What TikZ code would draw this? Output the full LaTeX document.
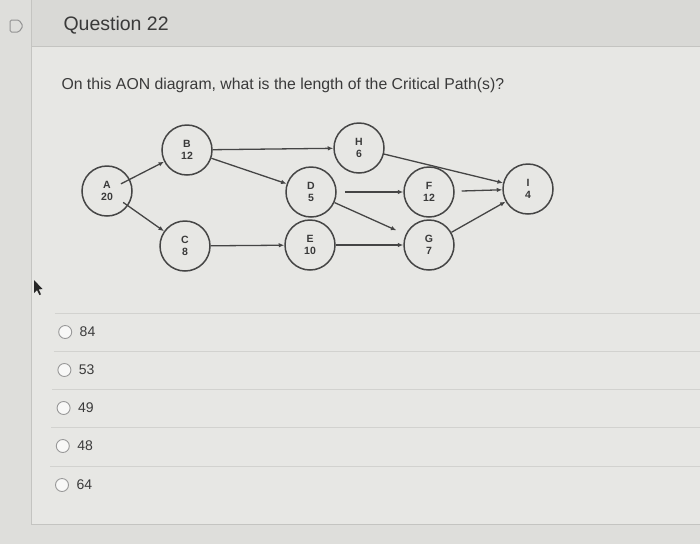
\documentclass[tikz,border=0pt]{standalone}
\usepackage{fontspec}
\setmainfont{Liberation Sans}
\usetikzlibrary{positioning, arrows.meta}
\definecolor{pagebg}{HTML}{DEDEDB}
\definecolor{cardbg}{HTML}{E7E7E4}
\definecolor{headbg}{HTML}{D9D9D6}
\definecolor{cardline}{HTML}{C4C4C1}
\definecolor{sepline}{HTML}{D2D2CF}
\definecolor{inkgray}{HTML}{454545}
\definecolor{textgray}{HTML}{3A3A3A}
\tikzset{
  act/.style={circle, draw=inkgray, line width=1.5pt, minimum size=50pt, inner sep=0pt,
    align=center, text=textgray, font=\bfseries\fontsize{10.5}{12.5}\selectfont},
  link/.style={draw=inkgray, line width=1.3pt, -{Latex[length=5.5pt,width=4.5pt]}},
  radio/.style={circle, draw=gray!80, fill=white!70!cardbg, line width=0.9pt, minimum size=13pt, inner sep=0pt},
  choice/.style={anchor=west, text=textgray, font=\fontsize{14}{16}\selectfont}
}
\begin{document}
\begin{tikzpicture}[x=1pt, y=-1pt]
  \useasboundingbox (0,0) rectangle (700,544);
  % page and card
  \fill[pagebg] (0,0) rectangle (700,544);
  \fill[cardbg] (31,46) rectangle (700,524);
  \fill[headbg] (31,0) rectangle (700,46);
  \draw[cardline, line width=0.8pt] (31,0) -- (31,524) -- (700,524);
  \draw[cardline, line width=0.8pt] (31,46) -- (700,46);
  \draw[gray!85, line width=1pt, rounded corners=1.5pt] (10,20) -- (19,20) -- (23,26) -- (19,32) -- (10,32) -- cycle;

  \node[anchor=west, text=textgray, font=\fontsize{19.5}{22}\selectfont] (title) at (60,25) {Question 22};
  \node[anchor=west, text=textgray, font=\fontsize{15.8}{18}\selectfont] (question) at (58,85)
    {On this AON diagram, what is the length of the Critical Path(s)?};

  % activities
  \node[act] (A) at (107,191) {A\\20};
  \node[act] (B) at (187,150) {B\\12};
  \node[act] (C) at (185,246) {C\\8};
  \node[act] (D) at (311,192) {D\\5};
  \node[act] (E) at (310,245) {E\\10};
  \node[act] (H) at (359,148) {H\\6};
  \node[act] (F) at (429,192) {F\\12};
  \node[act] (G) at (429,245) {G\\7};
  \node[act] (I) at (528,189) {I\\4};

  % precedence
  \draw[link, shorten <=-10pt] (A) -- (B);
  \draw[link, shorten <=-6pt] (A) -- (C);
  \draw[link] (B) -- (H);
  \draw[link] (B) -- (D);
  \draw[link] (C) -- (E);
  \draw[link, shorten <=8pt] (D) -- (F);
  \draw[link, shorten >=10pt] (D) -- (G);
  \draw[link] (E) -- (G);
  \draw[link] (H) -- (I);
  \draw[link, shorten <=7pt] (F) -- (I);
  \draw[link] (G) -- (I);

  % answers
  \foreach \ypos/\val [count=\k] in {332/84, 370/53, 408/49, 446/48, 485/64} {
    \node[radio] (r\k) at (66-\k*0.8,\ypos) {};
    \node[choice] (t\k) at (77-\k*0.8,\ypos) {\val};
    \draw[sepline, line width=0.8pt] (56-\k*1.2,\ypos-19) -- (700,\ypos-19);
  }

  % pointer
  \fill[black!85] (34,280) -- (34,293) -- (37,290) -- (39.5,295) -- (41,294.3) -- (38.7,289.5) -- (42.5,289) -- cycle;
\end{tikzpicture}
\end{document}
